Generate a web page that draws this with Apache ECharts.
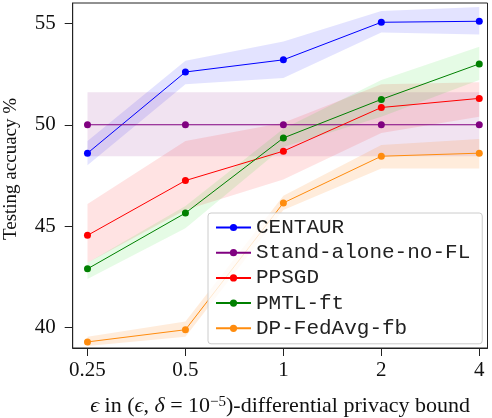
<!DOCTYPE html>
<html>
<head>
<meta charset="utf-8">
<script src="https://cdn.jsdelivr.net/npm/echarts@6/dist/echarts.min.js"></script>
<style>
html,body{margin:0;padding:0;background:#fff;}
#chart{width:492px;height:418px;}
</style>
</head>
<body>
<div id="chart"></div>
<script>
// ---- data ----
const epsilons = [0.25, 0.5, 1, 2, 4];
const xTickLabels = ['0.25', '0.5', '1', '2', '4'];
const yTicks = [40, 45, 50, 55];

const seriesNames = ['CENTAUR', 'Stand-alone-no-FL', 'PPSGD', 'PMTL-ft', 'DP-FedAvg-fb'];

const centaur   = [48.6, 52.6, 53.2, 55.05, 55.1];
const centaurLo = [48.0, 52.0, 52.3, 54.55, 54.45];
const centaurHi = [49.2, 53.15, 54.1, 55.6, 55.8];

const standalone   = [50, 50, 50, 50, 50];
const standaloneLo = [48.45, 48.45, 48.45, 48.45, 48.45];
const standaloneHi = [51.6, 51.6, 51.6, 51.6, 51.6];

const ppsgd   = [44.55, 47.25, 48.7, 50.85, 51.3];
const ppsgdLo = [43.2, 45.8, 47.3, 49.6, 50.4];
const ppsgdHi = [46.1, 49.2, 50.1, 52.0, 52.1];

const pmtl   = [42.9, 45.65, 49.35, 51.25, 53.0];
const pmtlLo = [42.4, 44.9, 48.9, 50.4, 52.2];
const pmtlHi = [43.2, 46.0, 49.8, 52.2, 53.85];

const fedavg   = [39.3, 39.9, 46.15, 48.45, 48.6];
const fedavgLo = [39.1, 39.55, 45.8, 47.85, 47.85];
const fedavgHi = [39.55, 40.3, 46.5, 49.0, 49.3];

const lineColors = ['#0000ff', '#800080', '#ff0000', '#008000', '#ff8c0e'];
const bandColors = ['rgba(0,0,255,0.11)', 'rgba(128,0,128,0.11)', 'rgba(255,0,0,0.11)', 'rgba(0,220,0,0.10)', 'rgba(255,127,14,0.15)'];

const means = [centaur, standalone, ppsgd, pmtl, fedavg];
const los = [centaurLo, standaloneLo, ppsgdLo, pmtlLo, fedavgLo];
const his = [centaurHi, standaloneHi, ppsgdHi, pmtlHi, fedavgHi];

const xs = epsilons.map(e => Math.log2(e));

function bandSeries(idx) {
  const lo = los[idx], hi = his[idx];
  return {
    type: 'custom',
    name: seriesNames[idx] + ' band',
    silent: true,
    z: 1,
    data: xs.map((x, i) => [x, lo[i], hi[i]]),
    encode: { x: 0, y: [1, 2] },
    renderItem: function (params, api) {
      if (params.dataIndex !== 0) return;
      const pts = [];
      for (let i = 0; i < xs.length; i++) pts.push(api.coord([xs[i], hi[i]]));
      for (let i = xs.length - 1; i >= 0; i--) pts.push(api.coord([xs[i], lo[i]]));
      return { type: 'polygon', shape: { points: pts }, style: { fill: bandColors[idx] } };
    }
  };
}

function lineSeries(idx) {
  return {
    type: 'line',
    name: seriesNames[idx],
    z: 3,
    data: xs.map((x, i) => [x, means[idx][i]]),
    symbol: 'circle',
    symbolSize: 7,
    showSymbol: true,
    lineStyle: { color: lineColors[idx], width: 1 },
    itemStyle: { color: lineColors[idx] },
    emphasis: { disabled: true },
    animation: false
  };
}

const series = [];
for (let i = 0; i < 5; i++) series.push(bandSeries(i));
for (let i = 0; i < 5; i++) series.push(lineSeries(i));

const serif = 'Liberation Serif';

const chart = echarts.init(document.getElementById('chart'));
chart.setOption({
  animation: false,
  backgroundColor: '#fff',
  grid: {
    left: 72.7, right: 4.5, top: 3, bottom: 70,
    outerBoundsMode: 'none',
    containLabel: false,
    show: true, borderColor: '#222', borderWidth: 1, backgroundColor: 'transparent'
  },
  legend: {
    data: seriesNames,
    orient: 'vertical',
    left: 208, top: 213,
    padding: [4, 12, 5, 7],
    itemWidth: 35, itemHeight: 9, itemGap: 4.2,
    backgroundColor: 'rgba(255,255,255,0.8)',
    borderColor: '#cccccc', borderWidth: 1, borderRadius: 3,
    textStyle: { fontFamily: 'Liberation Mono', fontSize: 21, lineHeight: 21, color: '#222' },
    selectedMode: false
  },
  xAxis: {
    type: 'value',
    min: -2.151, max: 2.084,
    splitLine: { show: false },
    axisLine: { show: true, onZero: false, lineStyle: { color: '#222', width: 1 } },
    axisTick: { show: true, length: 8, lineStyle: { color: '#222' }, customValues: xs },
    axisLabel: {
      customValues: xs,
      margin: 12,
      fontFamily: serif, fontSize: 21, color: '#111',
      formatter: function (v) {
        const i = xs.findIndex(x => Math.abs(x - v) < 1e-6);
        return i >= 0 ? xTickLabels[i] : '';
      }
    },
    name: '{m|ϵ} in ({m|ϵ}, {m|δ} = 10{s|−5})-differential privacy bound',
    nameLocation: 'middle',
    nameGap: 47,
    nameTextStyle: {
      fontFamily: serif, fontSize: 22, color: '#111',
      rich: {
        m: { fontFamily: serif, fontSize: 22, fontStyle: 'italic', color: '#111' },
        s: { fontFamily: serif, fontSize: 15, color: '#111', verticalAlign: 'top', padding: [0, 0, 8, 0] }
      }
    }
  },
  yAxis: {
    type: 'value',
    min: 39, max: 56,
    splitLine: { show: false },
    axisLine: { show: true, onZero: false, lineStyle: { color: '#222', width: 1 } },
    axisTick: { show: true, length: 8, lineStyle: { color: '#222' }, customValues: yTicks },
    axisLabel: { customValues: yTicks, margin: 17, fontFamily: serif, fontSize: 21, color: '#111' },
    name: 'Testing accuacy %',
    nameLocation: 'middle',
    nameGap: 52,
    nameTextStyle: { fontFamily: serif, fontSize: 19, color: '#111', padding: [0, 0, 0, 13] }
  },
  series: series
});
</script>
</body>
</html>
